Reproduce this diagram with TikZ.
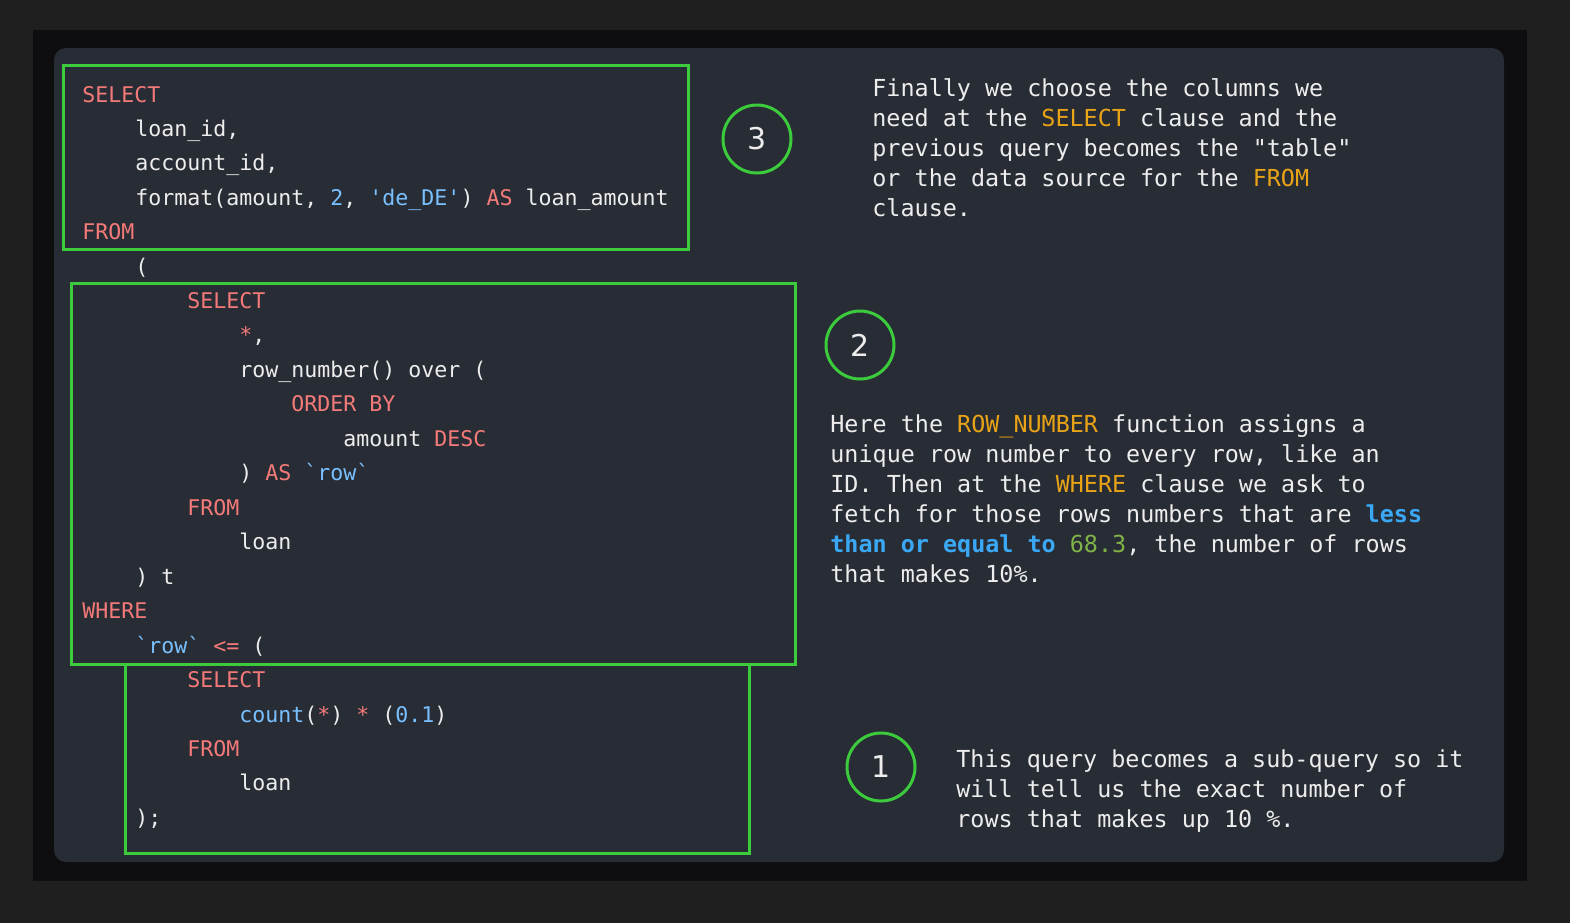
\documentclass[tikz,border=0pt]{standalone}
\usepackage{fontspec}
\setmonofont{DejaVu Sans Mono}
\setsansfont{DejaVu Sans}
\definecolor{bgc}{HTML}{1F1F1F}
\definecolor{framec}{HTML}{0E0E10}
\definecolor{panelc}{HTML}{282C34}
\definecolor{boxg}{HTML}{3CCB3C}
\definecolor{kw}{HTML}{F47A7A}
\definecolor{numc}{HTML}{79C0FF}
\definecolor{txt}{HTML}{EDEDED}
\definecolor{yel}{HTML}{E8A317}
\definecolor{bblue}{HTML}{3AA8F5}
\definecolor{gnum}{HTML}{7FB347}
\newcommand\K[1]{\textcolor{kw}{#1}}
\newcommand\N[1]{\textcolor{numc}{#1}}
\newcommand\Y[1]{\textcolor{yel}{#1}}
\tikzset{
 code/.style={anchor=base west,inner sep=0pt,text=txt,font=\ttfamily\fontsize{10.8}{12}\selectfont},
 para/.style={anchor=north west,inner sep=0pt,text=txt,align=left,font=\ttfamily\fontsize{11.7}{15}\selectfont},
 gbox/.style={draw=boxg,line width=1.5pt},
 numcirc/.style={circle,draw=boxg,line width=1.5pt,minimum size=34pt,inner sep=0pt,text=txt,font=\sffamily\fontsize{15}{18}\selectfont}
}
\begin{document}
\begin{tikzpicture}[x=0.5pt,y=-0.5pt]
\fill[bgc] (0,0) rectangle (1570,923);
\useasboundingbox (0,0) rectangle (1570,923);
\fill[framec] (33,30) rectangle (1527,881);
\fill[panelc,rounded corners=6pt] (54,48) rectangle (1504,862);
\draw[gbox] (63,65) rectangle (688,249);
\draw[gbox] (71,283) rectangle (795,664);
\draw[gbox] (125,664) rectangle (749,853);
\node[code] (l1) at (82,102) {\K{SELECT}};
\node[code] (l2) at (135,136) {loan\_id,};
\node[code] (l3) at (135,170) {account\_id,};
\node[code] (l4) at (135,205) {format(amount, \N{2}, \N{'de\_DE'}) \K{AS} loan\_amount};
\node[code] (l5) at (82,239) {\K{FROM}};
\node[code] (l6) at (135,274) {(};
\node[code] (l7) at (187,308) {\K{SELECT}};
\node[code] (l8) at (239,342) {\K{*},};
\node[code] (l9) at (239,377) {row\_number() over (};
\node[code] (l10) at (291,411) {\K{ORDER BY}};
\node[code] (l11) at (343,446) {amount \K{DESC}};
\node[code] (l12) at (239,480) {) \K{AS} \N{\textasciigrave row\textasciigrave}};
\node[code] (l13) at (187,515) {\K{FROM}};
\node[code] (l14) at (239,549) {loan};
\node[code] (l15) at (135,584) {) t};
\node[code] (l16) at (82,618) {\K{WHERE}};
\node[code] (l17) at (135,653) {\N{\textasciigrave row\textasciigrave} \K{<=} (};
\node[code] (l18) at (187,687) {\K{SELECT}};
\node[code] (l19) at (239,722) {\N{count}(\K{*}) \K{*} (\N{0.1})};
\node[code] (l20) at (187,756) {\K{FROM}};
\node[code] (l21) at (239,790) {loan};
\node[code] (l22) at (135,825) {);};
\node[numcirc] (c3) at (757,139) {3};
\node[numcirc] (c2) at (860,345) {2};
\node[numcirc] (c1) at (881,767) {1};
\node[para] (p3) at (872,78) {Finally we choose the columns we\\need at the \Y{SELECT} clause and the\\previous query becomes the "table"\\or the data source for the \Y{FROM}\\clause.};
\node[para] (p2) at (830,414) {Here the \Y{ROW\_NUMBER} function assigns a\\unique row number to every row, like an\\ID. Then at the \Y{WHERE} clause we ask to\\fetch for those rows numbers that are \textcolor{bblue}{\bfseries less}\\\textcolor{bblue}{\bfseries than or equal to} \textcolor{gnum}{68.3}, the number of rows\\that makes 10\%.};
\node[para] (p1) at (956,749) {This query becomes a sub-query so it\\will tell us the exact number of\\rows that makes up 10 \%.};
\end{tikzpicture}
\end{document}
